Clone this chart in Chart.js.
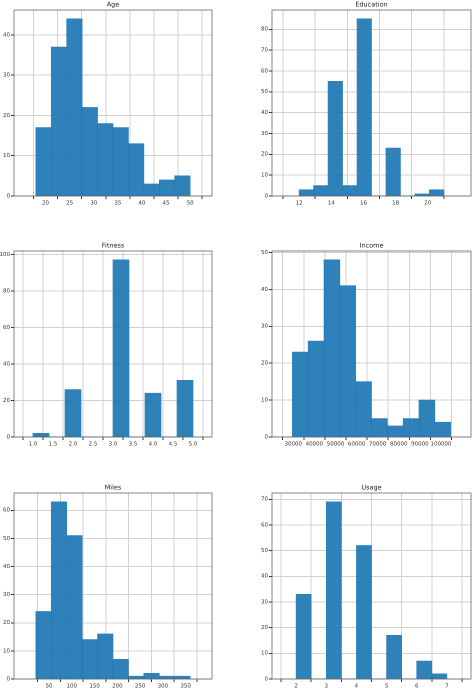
<!DOCTYPE html>
<html><head><meta charset="utf-8">
<script src="https://cdn.jsdelivr.net/npm/chart.js@4"></script>
<style>body{margin:0;background:#fff;width:474px;height:688px;position:relative;overflow:hidden}canvas{position:absolute}</style>
</head><body>
<script>
const ageCounts=[17,37,44,22,18,17,13,3,4,5];
const eduCounts=[3,5,55,5,85,0,23,0,1,3];
const fitCounts=[2,0,26,0,0,97,0,24,0,31];
const incCounts=[23,26,48,41,15,5,3,5,10,4];
const milCounts=[24,63,51,14,16,7,1,2,1,1];
const useCounts=[33,0,69,0,52,0,17,0,7,2];
const ageRange=[18,50],eduRange=[12,21],fitRange=[1,5],incRange=[29562,104581],milRange=[21,360],useRange=[2,7];
const ageTicks=[20,25,30,35,40,45,50],eduTicks=[12,14,16,18,20],fitTicks=[1,1.5,2,2.5,3,3.5,4,4.5,5],
incTicks=[30000,40000,50000,60000,70000,80000,90000,100000],milTicks=[50,100,150,200,250,300,350],useTicks=[2,3,4,5,6,7];
const ageY=[0,10,20,30,40],eduY=[0,10,20,30,40,50,60,70,80],fitY=[0,20,40,60,80,100],incY=[0,10,20,30,40,50],milY=[0,10,20,30,40,50,60],useY=[0,10,20,30,40,50,60,70];
const panels=[
 ["Age",ageCounts,ageRange,ageTicks,ageY,0,0,14],
 ["Education",eduCounts,eduRange,eduTicks,eduY,240,0,32],
 ["Fitness",fitCounts,fitRange,fitTicks,fitY,0,241,14],
 ["Income",incCounts,incRange,incTicks,incY,240,241,32],
 ["Miles",milCounts,milRange,milTicks,milY,0,483,14],
 ["Usage",useCounts,useRange,useTicks,useY,240,483,32]];
const W=[215,234],H=210;
panels.forEach(([title,counts,rng,xt,yt,left,top,yw])=>{
 const c=document.createElement('canvas');
 const w=left?W[1]:W[0];
 c.width=w;c.height=H;
 c.style.left=left+'px';c.style.top=top+'px';
 document.body.appendChild(c);
 const n=counts.length,bw=(rng[1]-rng[0])/n,m=(rng[1]-rng[0])*0.05;
 const data=counts.map((v,k)=>({x:rng[0]+bw*(k+0.5),y:v}));
 const ymax=Math.max(...counts)*1.05;
 const fmt=v=>(xt.some(t=>t%1)?v.toFixed(1):String(v));
 new Chart(c,{type:'bar',data:{datasets:[{data,backgroundColor:'rgba(31,119,180,0.93)',barPercentage:1,categoryPercentage:1,borderWidth:0}]},
 options:{responsive:false,animation:false,devicePixelRatio:2,
  layout:{padding:{top:10,right:3,left:0,bottom:0}},
  plugins:{legend:{display:false},tooltip:{enabled:false}},
  scales:{
   x:{type:'linear',min:rng[0]-m,max:rng[1]+m,afterBuildTicks:a=>{a.ticks=xt.map(v=>({value:v}))},
      ticks:{font:{size:5.5,family:'DejaVu Sans'},color:'#333',maxRotation:0,autoSkip:false,callback:fmt,padding:1},
      grid:{color:'#d0d0d0',tickLength:3,tickColor:'#333'},border:{display:false},afterFit:s=>{s.height=14}},
   y:{min:0,max:ymax,afterBuildTicks:a=>{a.ticks=yt.map(v=>({value:v}))},
      ticks:{font:{size:5.5,family:'DejaVu Sans'},color:'#333',autoSkip:false,padding:1},
      grid:{color:'#d0d0d0',tickLength:3,tickColor:'#333'},border:{display:false},afterFit:s=>{s.width=yw}}
  }},
 plugins:[{id:'frame',afterDraw(ch){const x=ch.ctx,a=ch.chartArea;x.save();x.strokeStyle='#555';x.lineWidth=0.7;x.strokeRect(a.left,a.top,a.right-a.left,a.bottom-a.top);
  x.fillStyle='#222';x.font='6.5px DejaVu Sans';x.textAlign='center';x.textBaseline='bottom';x.fillText(title,(a.left+a.right)/2,a.top-2);x.restore();}}]
 });
});
</script>
</body></html>
